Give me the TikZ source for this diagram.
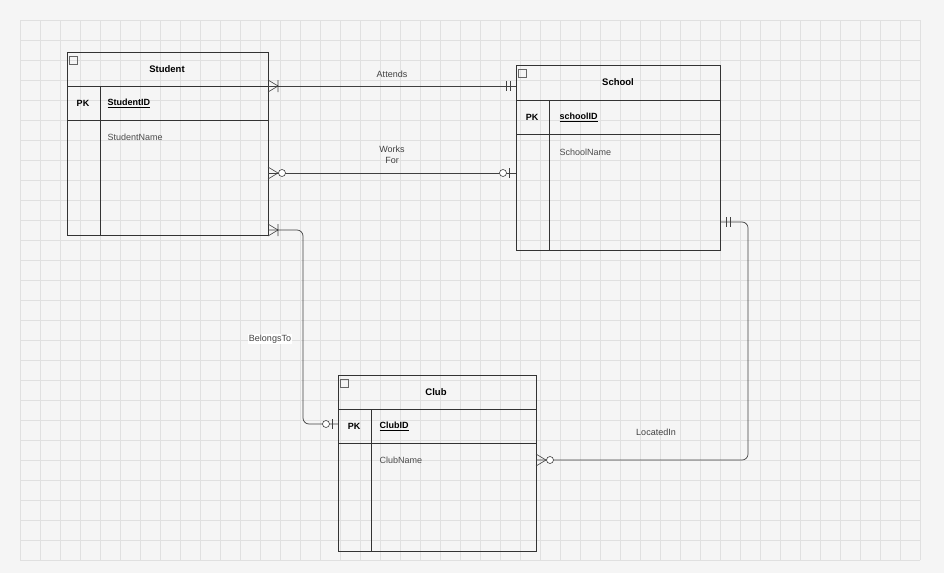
\documentclass[tikz,border=0pt]{standalone}
\usepackage{fontspec}
\setmainfont{Liberation Sans}
\begin{document}
\begin{tikzpicture}[x=1pt,y=-1pt,
  tbl/.style={draw=black!80,line width=0.8pt},
  hdr/.style={font=\bfseries\fontsize{9.5}{11}\selectfont},
  pk/.style={font=\bfseries\fontsize{9}{11}\selectfont},
  attr/.style={font=\fontsize{9}{11}\selectfont,text=black!70},
  lbl/.style={font=\fontsize{9}{11}\selectfont,text=black!75,align=center},
  rel/.style={draw=black!75,line width=0.7pt},
  mk/.style={draw=black!75,line width=0.6pt}]
\useasboundingbox (0,0) rectangle (944,573);
\fill[black!4] (0,0) rectangle (944,573);
\foreach \x in {20,40,...,920} \draw[black!12,line width=0.4pt] (\x,20) -- (\x,560);
\foreach \y in {20,40,...,560} \draw[black!12,line width=0.4pt] (20,\y) -- (920,\y);
% Student
\draw[tbl] (67,52) rectangle (268,235);
\draw[tbl] (67,86) -- (268,86) (67,120) -- (268,120) (100,86) -- (100,235);
\node[hdr] (sh) at (167,69) {Student};
\node[pk] (spk) at (83,103) {PK};
\node[pk,anchor=west] (sid) at (104,103) {\underline{StudentID}};
\node[attr,anchor=west] (sn) at (104,137) {StudentName};
\draw[black!60] (69,56) rectangle (77,64);
% School
\draw[tbl] (516,65) rectangle (720,250);
\draw[tbl] (516,100) -- (720,100) (516,134) -- (720,134) (549,100) -- (549,250);
\node[hdr] (ch) at (618,82) {School};
\node[pk] (cpk) at (532,117) {PK};
\node[pk,anchor=west] (cid) at (556,117) {\underline{schoolID}};
\node[attr,anchor=west] (cn) at (556,152) {SchoolName};
\draw[black!60] (518,69) rectangle (526,77);
% Club
\draw[tbl] (338,375) rectangle (536,551);
\draw[tbl] (338,409) -- (536,409) (338,443) -- (536,443) (371,409) -- (371,551);
\node[hdr] (bh) at (436,392) {Club};
\node[pk] (bpk) at (354,426) {PK};
\node[pk,anchor=west] (bid) at (376,426) {\underline{ClubID}};
\node[attr,anchor=west] (bn) at (376,460) {ClubName};
\draw[black!60] (340,379) rectangle (348,387);
% connectors
\coordinate (a1) at (268,86); \coordinate (a2) at (516,86);
\coordinate (w1) at (268,173); \coordinate (w2) at (516,173);
\coordinate (b1) at (268,230); \coordinate (b2) at (338,424);
\coordinate (l1) at (720,222); \coordinate (l2) at (536,460);
\draw[rel] (a1) -- (a2);
\draw[rel] (w1) -- (w2);
\draw[rel,rounded corners=6] (b1) -- (303,230) -- (303,424) -- (b2);
\draw[rel,rounded corners=6] (l1) -- (748,222) -- (748,460) -- (l2);
\node[lbl] (la) at (392,74) {Attends};
\node[lbl] (lw) at (392,155) {Works\\For};
\node[lbl,fill=white,inner sep=1pt] (lb) at (270,339) {BelongsTo};
\node[lbl] (ll) at (656,432) {LocatedIn};
% markers
\draw[mk] (268,80) -- (278,86) -- (268,92) (278,80) -- (278,92);
\draw[mk] (506,81) -- (506,91) (510,81) -- (510,91);
\draw[mk] (268,167) -- (278,173) -- (268,179); \draw[mk,fill=white] (282,173) circle (3.5);
\draw[mk,fill=white] (503,173) circle (3.5); \draw[mk] (509,168) -- (509,178);
\draw[mk] (268,224) -- (278,230) -- (268,236) (278,224) -- (278,236);
\draw[mk,fill=white] (326,424) circle (3.5); \draw[mk] (332,419) -- (332,429);
\draw[mk] (726,217) -- (726,227) (730,217) -- (730,227);
\draw[mk] (536,454) -- (546,460) -- (536,466); \draw[mk,fill=white] (550,460) circle (3.5);
\end{tikzpicture}
\end{document}
